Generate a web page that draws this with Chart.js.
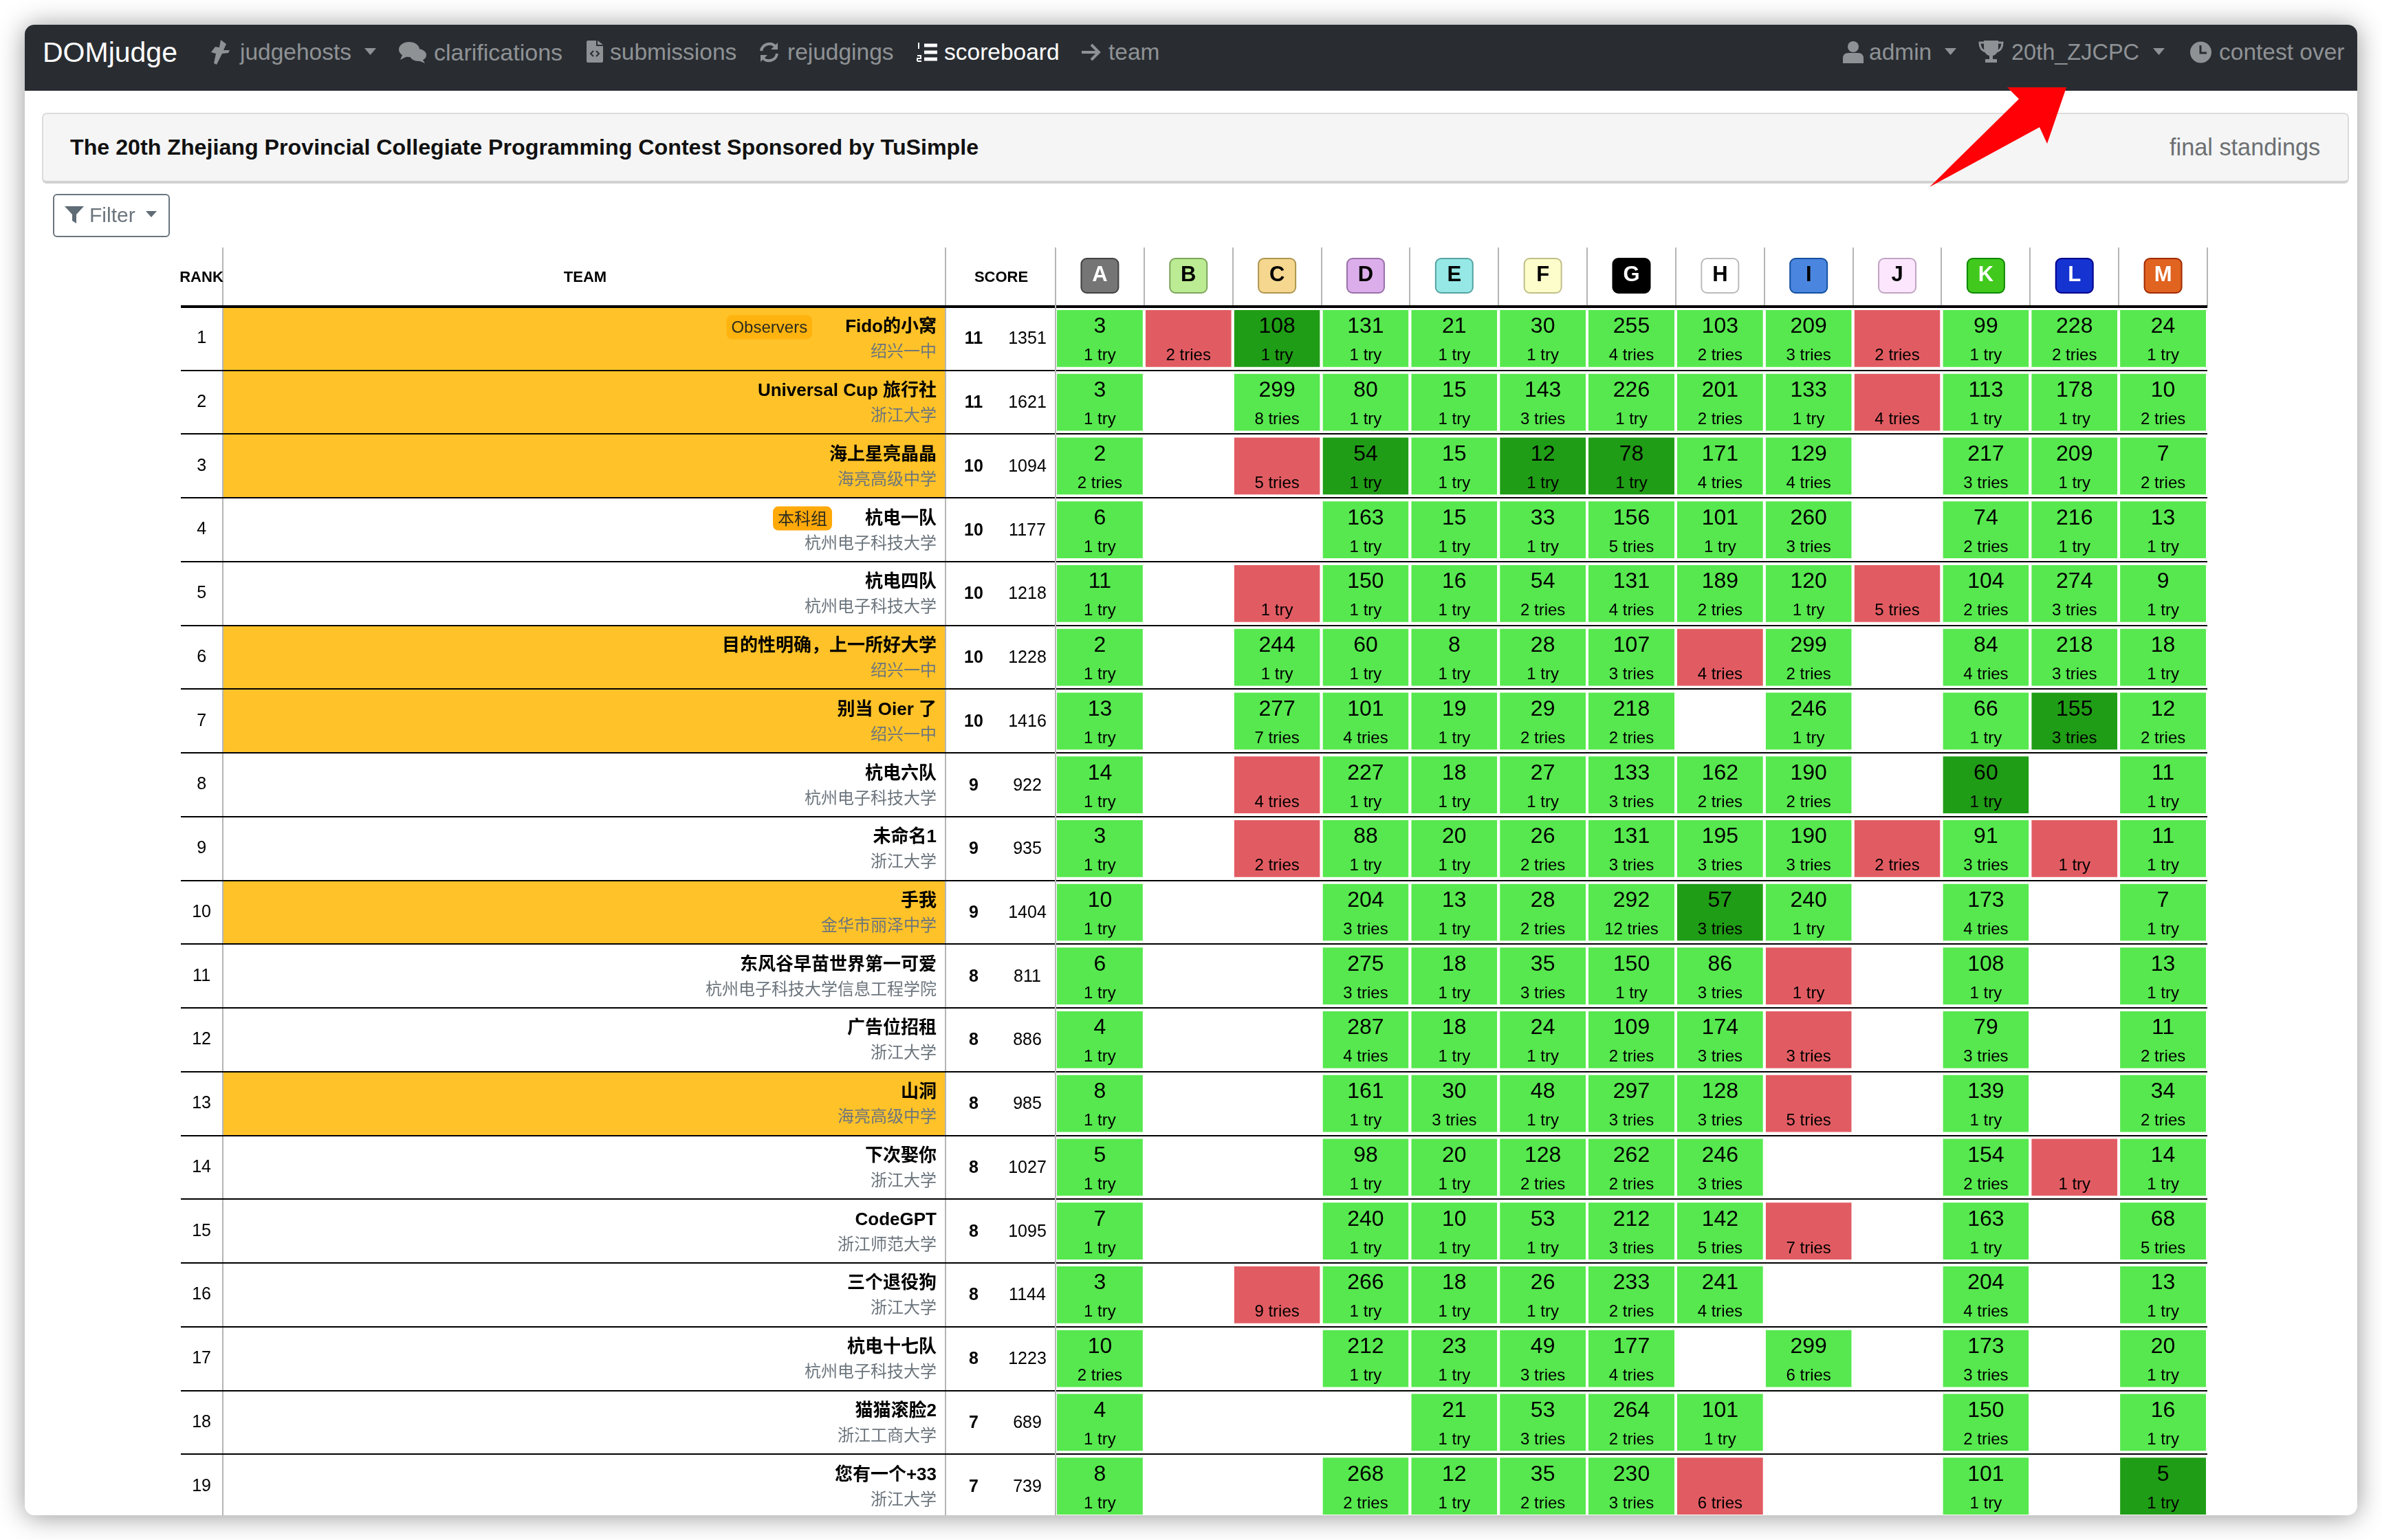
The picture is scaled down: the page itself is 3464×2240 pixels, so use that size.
<!DOCTYPE html>
<html>
<head>
<meta charset="utf-8">
<title>DOMjudge scoreboard</title>
<script src="https://cdn.jsdelivr.net/npm/chart.js@4"></script>
<style>
  html, body { margin: 0; padding: 0; background: #fff; width: 3464px; height: 2240px; overflow: hidden; }
  body, canvas { font-family: "Liberation Sans", "Noto Sans CJK SC", sans-serif; }
  #win { position: absolute; left: 36px; top: 36px; width: 3392px; height: 2168px; overflow: hidden;
         border-radius: 14px; background: #fff; box-shadow: 0 2px 38px rgba(0,0,0,.42); }
  #inner { position: absolute; left: -36px; top: -36px; width: 3464px; height: 2240px; }
  #chart { position: absolute; left: 0; top: 0; }
  #nav { position: absolute; left: 0; top: 36px; width: 3464px; height: 96px; background: #292d32; }
  #card { position: absolute; left: 61px; top: 164px; width: 3351px; height: 97px; background: #f5f5f5;
          border: 2px solid #dcdcdc; border-bottom: 4px solid #d2d2d2; border-radius: 7px; }
  #filter { position: absolute; left: 77px; top: 282px; width: 166px; height: 59px; border: 2px solid #6c757d; border-radius: 6px; }
  .t { position: absolute; white-space: nowrap; line-height: 44px; height: 44px; font-size: 33.5px; color: #8f9295; }
  svg { position: absolute; overflow: visible; }
  #arrow { left: 0; top: 0; width: 3464px; height: 2240px; }
</style>
</head>
<body>
<div id="win"><div id="inner">
  <canvas id="chart" width="3464" height="2240"></canvas>
  <div id="nav"></div>
  <div id="card"></div>
  <div id="filter"></div>

  <span class="t" style="left:62px;top:54px;font-size:41px;color:#fff">DOMjudge</span>
  <svg style="left:307px;top:58px" width="30" height="36" viewBox="0 0 30 36"><path d="M14 0l8 6-4 9 9 0-2 4-9 1-8 16-4-2 3-14-7-2 6-8 6 1z" fill="#8f9295"/></svg>
  <span class="t" style="left:349px;top:54px">judgehosts</span>
  <svg style="left:530px;top:70px" width="17" height="10" viewBox="0 0 17 10"><path d="M0 0h17L8.500 10z" fill="#8f9295"/></svg>
  <svg style="left:580px;top:60px" width="40" height="32" viewBox="0 0 40 32"><ellipse cx="15" cy="12" rx="15" ry="11" fill="#8f9295"/><ellipse cx="28" cy="20" rx="12" ry="9" fill="#8f9295"/><path d="M6 18l-4 9 10-5zM33 24l5 8-10-4z" fill="#8f9295"/></svg>
  <span class="t" style="left:631px;top:54px;font-size:34px">clarifications</span>
  <svg style="left:853px;top:59px" width="24" height="32" viewBox="0 0 24 32"><path d="M0 2q0-2 2-2h12v8h10v22q0 2-2 2H2q-2 0-2-2zM16 0l8 6h-8z" fill="#8f9295"/><path d="M10 15l-4 4 4 4M14 15l4 4-4 4" fill="none" stroke="#292d32" stroke-width="2"/></svg>
  <span class="t" style="left:887px;top:54px">submissions</span>
  <svg style="left:1103px;top:61px" width="31" height="30" viewBox="0 0 31 30"><path d="M4 13a12 12 0 0 1 21-6M27 17a12 12 0 0 1-21 6" fill="none" stroke="#8f9295" stroke-width="4"/><path d="M28 1v10H18zM3 29V19h10z" fill="#8f9295"/></svg>
  <span class="t" style="left:1145px;top:54px">rejudgings</span>
  <svg style="left:1333px;top:61px" width="30" height="30" viewBox="0 0 30 30"><path d="M11 5h19M11 15h19M11 25h19" stroke="#fff" stroke-width="5"/><path d="M3 1v9M1 28h6M1 20h5v4H1v4" fill="none" stroke="#fff" stroke-width="2"/></svg>
  <span class="t" style="left:1373px;top:54px;color:#fff">scoreboard</span>
  <svg style="left:1573px;top:62px" width="28" height="28" viewBox="0 0 28 28"><path d="M0 14h25M14 3l11 11-11 11" fill="none" stroke="#8f9295" stroke-width="4"/></svg>
  <span class="t" style="left:1612px;top:54px">team</span>

  <svg style="left:2680px;top:60px" width="30" height="32" viewBox="0 0 30 32"><circle cx="15" cy="8" r="8" fill="#8f9295"/><path d="M0 32v-7q0-8 8-8h14q8 0 8 8v7z" fill="#8f9295"/></svg>
  <span class="t" style="left:2718px;top:54px">admin</span>
  <svg style="left:2828px;top:70px" width="17" height="10" viewBox="0 0 17 10"><path d="M0 0h17L8.500 10z" fill="#8f9295"/></svg>
  <svg style="left:2877px;top:59px" width="37" height="32" viewBox="0 0 37 32"><path d="M8 0h21v10q0 10-8 12v5h6v5H10v-5h6v-5Q8 20 8 10z" fill="#8f9295"/><path d="M8 3H2q0 11 9 13M29 3h6q0 11-9 13" fill="none" stroke="#8f9295" stroke-width="3"/></svg>
  <span class="t" style="left:2925px;top:54px;font-size:32.500px">20th_ZJCPC</span>
  <svg style="left:3131px;top:70px" width="17" height="10" viewBox="0 0 17 10"><path d="M0 0h17L8.500 10z" fill="#8f9295"/></svg>
  <svg style="left:3185px;top:60px" width="31" height="32" viewBox="0 0 31 32"><circle cx="15.500" cy="16" r="15.500" fill="#8f9295"/><path d="M15 6v11h9" fill="none" stroke="#292d32" stroke-width="3"/></svg>
  <span class="t" style="left:3227px;top:54px">contest over</span>

  <span class="t" style="left:102px;top:192px;font-size:32.200px;font-weight:bold;color:#111">The 20th Zhejiang Provincial Collegiate Programming Contest Sponsored by TuSimple</span>
  <span class="t" style="left:3155px;top:192px;font-size:34.300px;color:#6c6f72">final standings</span>

  <svg style="left:94px;top:300px" width="28" height="25" viewBox="0 0 28 25"><path d="M0 0h28L17 12v13l-6-4v-9z" fill="#5f6b75"/></svg>
  <span class="t" style="left:130px;top:291px;font-size:30px;color:#6c757d">Filter</span>
  <svg style="left:212px;top:307px" width="16" height="9" viewBox="0 0 16 9"><path d="M0 0h16L8 9z" fill="#5f6b75"/></svg>

  <svg id="arrow" viewBox="0 0 3464 2240"><polygon points="2919,127 3005,127 2977,209 2966,185 2806,272 2936,144" fill="#ff0007"/></svg>
</div></div>

<script>
const problems = ['A','B','C','D','E','F','G','H','I','J','K','L','M'];
const ranks = ['1','2','3','4','5','6','7','8','9','10','11','12','13','14','15','16','17','18','19'];

const teamNames = ['Fido的小窝','Universal Cup 旅行社','海上星亮晶晶','杭电一队','杭电四队','目的性明确，上一所好大学','别当 Oier 了','杭电六队','未命名1','手我','东风谷早苗世界第一可爱','广告位招租','山洞','下次娶你','CodeGPT','三个退役狗','杭电十七队','猫猫滚脸2','您有一个+33'];
const affiliations = ['绍兴一中','浙江大学','海亮高级中学','杭州电子科技大学','杭州电子科技大学','绍兴一中','绍兴一中','杭州电子科技大学','浙江大学','金华市丽泽中学','杭州电子科技大学信息工程学院','浙江大学','海亮高级中学','浙江大学','浙江师范大学','浙江大学','杭州电子科技大学','浙江工商大学','浙江大学'];
const solvedCounts = [11,11,10,10,10,10,10,9,9,9,8,8,8,8,8,8,8,7,7];
const penalties = [1351,1621,1094,1177,1218,1228,1416,922,935,1404,811,886,985,1027,1095,1144,1223,689,739];
const highlighted = [1,1,1,0,0,1,1,0,0,1,0,0,1,0,0,0,0,0,0];
const badgeText = {0:'Observers', 3:'本科组'};

// one row per team, one column per problem; null time with tries = failed attempts
const _ = null;
const times = [
  [3,_,108,131,21,30,255,103,209,_,99,228,24],
  [3,_,299,80,15,143,226,201,133,_,113,178,10],
  [2,_,_,54,15,12,78,171,129,_,217,209,7],
  [6,_,_,163,15,33,156,101,260,_,74,216,13],
  [11,_,_,150,16,54,131,189,120,_,104,274,9],
  [2,_,244,60,8,28,107,_,299,_,84,218,18],
  [13,_,277,101,19,29,218,_,246,_,66,155,12],
  [14,_,_,227,18,27,133,162,190,_,60,_,11],
  [3,_,_,88,20,26,131,195,190,_,91,_,11],
  [10,_,_,204,13,28,292,57,240,_,173,_,7],
  [6,_,_,275,18,35,150,86,_,_,108,_,13],
  [4,_,_,287,18,24,109,174,_,_,79,_,11],
  [8,_,_,161,30,48,297,128,_,_,139,_,34],
  [5,_,_,98,20,128,262,246,_,_,154,_,14],
  [7,_,_,240,10,53,212,142,_,_,163,_,68],
  [3,_,_,266,18,26,233,241,_,_,204,_,13],
  [10,_,_,212,23,49,177,_,299,_,173,_,20],
  [4,_,_,_,21,53,264,101,_,_,150,_,16],
  [8,_,_,268,12,35,230,_,_,_,101,_,5]
];
const tries = [
  [1,2,1,1,1,1,4,2,3,2,1,2,1],
  [1,0,8,1,1,3,1,2,1,4,1,1,2],
  [2,0,5,1,1,1,1,4,4,0,3,1,2],
  [1,0,0,1,1,1,5,1,3,0,2,1,1],
  [1,0,1,1,1,2,4,2,1,5,2,3,1],
  [1,0,1,1,1,1,3,4,2,0,4,3,1],
  [1,0,7,4,1,2,2,0,1,0,1,3,2],
  [1,0,4,1,1,1,3,2,2,0,1,0,1],
  [1,0,2,1,1,2,3,3,3,2,3,1,1],
  [1,0,0,3,1,2,12,3,1,0,4,0,1],
  [1,0,0,3,1,3,1,3,1,0,1,0,1],
  [1,0,0,4,1,1,2,3,3,0,3,0,2],
  [1,0,0,1,3,1,3,3,5,0,1,0,2],
  [1,0,0,1,1,2,2,3,0,0,2,1,1],
  [1,0,0,1,1,1,3,5,7,0,1,0,5],
  [1,0,9,1,1,1,2,4,0,0,4,0,1],
  [2,0,0,1,1,3,4,0,6,0,3,0,1],
  [1,0,0,0,1,3,2,1,0,0,2,0,1],
  [1,0,0,2,1,2,3,6,0,0,1,0,1]
];
// first to solve: [row, problem]
const firstSolves = [[0,2],[2,3],[2,5],[2,6],[6,11],[7,10],[9,7],[18,12]];

const balloonFill = ['#757575','#bbeb92','#f5d78f','#dbadea','#95e8e6','#fdfdcb','#000000','#ffffff','#4a86e0','#fbe6fd','#41c91d','#1533d1','#e06320'];
const balloonEdge = ['#414141','#7da55c','#ae9550','#9970a8','#56a2a2','#bfbf88','#000000','#bbbbbb','#15509e','#c0a4c2','#0d8802','#00008a','#a02a00'];
const balloonText = ['#fff','#000','#000','#000','#000','#000','#fff','#000','#000','#000','#fff','#fff','#fff'];

const FONT = '"Liberation Sans", "Noto Sans CJK SC", sans-serif';
const LINE_GREY = '#b5b5b5';

const solvedCells = [], firstCells = [], failedCells = [];
times.forEach((row, r) => {
  row.forEach((t, c) => {
    const cell = {x: problems[c], y: [r, r + 1]};
    if (t !== null) {
      if (firstSolves.some(f => f[0] === r && f[1] === c)) firstCells.push(cell);
      else solvedCells.push(cell);
    } else if (tries[r][c] > 0) {
      failedCells.push(cell);
    }
  });
});

function cellDataset(label, data, color) {
  return {
    label, data, backgroundColor: color, yAxisID: 'v', grouped: false,
    borderColor: 'transparent', borderSkipped: false,
    borderWidth: {top: 5, bottom: 5, left: 0, right: 0},
    barPercentage: 0.97, categoryPercentage: 1
  };
}

// yellow team cells, vertical rules and problem balloons, under the axis layers
const underlay = {
  id: 'underlay',
  beforeDraw(chart) {
    const {ctx, scales: {x, v}} = chart;
    ctx.save();
    highlighted.forEach((on, r) => {
      if (!on) return;
      const top = v.getPixelForValue(r), bottom = v.getPixelForValue(r + 1);
      ctx.fillStyle = '#ffc228';
      ctx.fillRect(325, top, 1049, bottom - top);
    });
    ctx.strokeStyle = LINE_GREY;
    ctx.lineWidth = 2;
    [324, 1375].forEach(px => {
      ctx.beginPath(); ctx.moveTo(px, 360); ctx.lineTo(px, 2240); ctx.stroke();
    });
    problems.forEach((p, c) => {
      const cx = x.getPixelForTick(c);
      ctx.beginPath();
      ctx.roundRect(cx - 27, 376, 54, 50, 8);
      ctx.fillStyle = balloonFill[c];
      ctx.fill();
      ctx.strokeStyle = balloonEdge[c];
      ctx.stroke();
    });
    ctx.fillStyle = '#000';
    ctx.font = 'bold 22px ' + FONT;
    ctx.textAlign = 'center';
    ctx.textBaseline = 'middle';
    ctx.fillText('RANK', 293, 404);
    ctx.fillText('TEAM', 851, 404);
    ctx.fillText('SCORE', 1456, 404);
    ctx.restore();
  }
};

// team names, scores and the text inside the cells
const cellText = {
  id: 'cellText',
  afterDatasetsDraw(chart) {
    const {ctx, scales: {x, v}} = chart;
    ctx.save();
    ctx.textBaseline = 'alphabetic';
    times.forEach((row, r) => {
      const mid = v.getPixelForValue(r + 0.5);

      ctx.textAlign = 'right';
      ctx.fillStyle = '#000';
      ctx.font = 'bold 26px ' + FONT;
      ctx.fillText(teamNames[r], 1362, mid - 9);
      const nameWidth = ctx.measureText(teamNames[r]).width;
      ctx.fillStyle = '#6c757d';
      ctx.font = '24px ' + FONT;
      ctx.fillText(affiliations[r], 1362, mid + 27);

      if (badgeText[r]) {
        ctx.font = '24px ' + FONT;
        const w = ctx.measureText(badgeText[r]).width + 14;
        const right = 1362 - nameWidth - 48;
        ctx.beginPath();
        ctx.roundRect(right - w, mid - 34, w, 35, 8);
        ctx.fillStyle = r === 0 ? '#ffb30f' : '#ffa90a';
        ctx.fill();
        ctx.fillStyle = '#2c2c20';
        ctx.textAlign = 'center';
        ctx.fillText(badgeText[r], right - w / 2, mid - 8);
      }

      ctx.textAlign = 'center';
      ctx.fillStyle = '#000';
      ctx.font = 'bold 25px ' + FONT;
      ctx.fillText(solvedCounts[r], 1416, mid + 8);
      ctx.font = '25px ' + FONT;
      ctx.fillText(penalties[r], 1494, mid + 8);

      row.forEach((t, c) => {
        const n = tries[r][c];
        if (t === null && n === 0) return;
        const cx = x.getPixelForTick(c);
        if (t !== null) {
          ctx.font = '32px ' + FONT;
          ctx.fillText(t, cx, mid - 8);
        }
        ctx.font = '24px ' + FONT;
        ctx.fillText(n === 1 ? '1 try' : n + ' tries', cx, mid + 32);
      });
    });
    ctx.restore();
  }
};

new Chart(document.getElementById('chart'), {
  type: 'bar',
  data: {
    labels: problems,
    datasets: [
      cellDataset('solved', solvedCells, '#56e84e'),
      cellDataset('first to solve', firstCells, '#209d16'),
      cellDataset('failed', failedCells, '#e15c62')
    ]
  },
  plugins: [underlay, cellText],
  options: {
    responsive: false,
    animation: false,
    devicePixelRatio: 1,
    layout: {padding: {left: 263, top: 360, right: 254, bottom: 32}},
    plugins: {legend: {display: false}, tooltip: {enabled: false}},
    scales: {
      x: {
        type: 'category',
        position: 'top',
        offset: true,
        afterFit(scale) { scale.height = 86; },
        border: {display: false},
        grid: {offset: true, drawOnChartArea: false, tickLength: 86, tickColor: LINE_GREY, tickWidth: 2, lineWidth: 2},
        ticks: {
          autoSkip: false, maxRotation: 0, padding: -59,
          font: {family: FONT, size: 31, weight: 'bold'},
          color: ctx => balloonText[ctx.index]
        }
      },
      y: {
        type: 'category',
        labels: ranks,
        position: 'left',
        offset: true,
        afterFit(scale) { scale.width = 1272; },
        border: {display: true, color: LINE_GREY, width: 2},
        grid: {
          offset: true, tickLength: 1272, color: '#000', tickColor: '#000',
          lineWidth: ctx => ctx.index === 0 ? 4 : 2,
          tickWidth: ctx => ctx.index === 0 ? 4 : 2
        },
        ticks: {
          autoSkip: false, crossAlign: 'center', padding: -44,
          font: {family: FONT, size: 25}, color: '#000'
        }
      },
      v: {type: 'linear', display: false, reverse: true, min: 0, max: 19}
    }
  }
});
</script>
</body>
</html>
